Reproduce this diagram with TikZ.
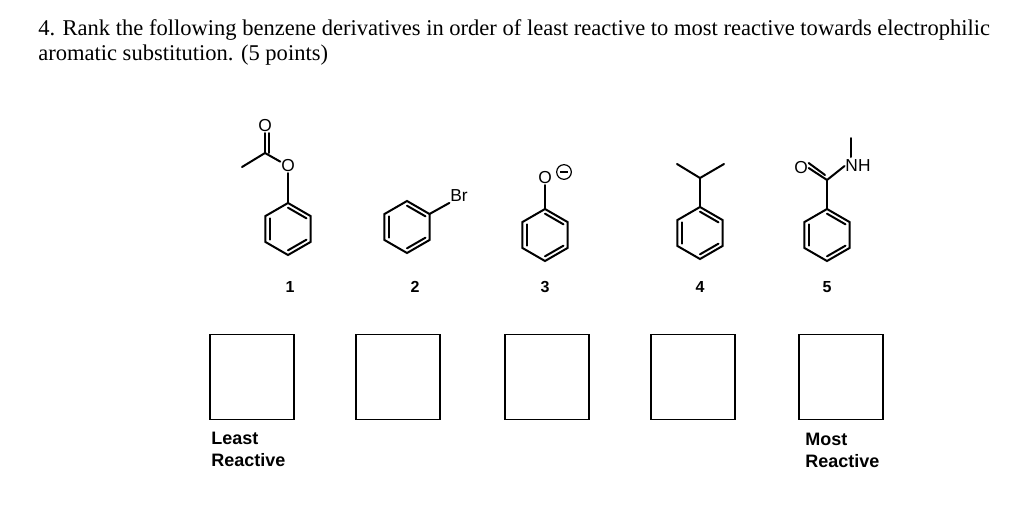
\documentclass[tikz,border=0pt]{standalone}
\usepackage{fontspec}
\setmainfont{Liberation Serif}
\setsansfont{Liberation Sans}
\newcommand{\benz}[3]{%
  \begin{scope}[shift={(#1,#2)}]
    \draw[bond] (90:#3) -- (30:#3) -- (-30:#3) -- (-90:#3) -- (-150:#3) -- (150:#3) -- cycle;
    \draw[bond] ($(150:#3)!0.18!(0,0)$) -- ($(-150:#3)!0.18!(0,0)$);
    \draw[bond] ($(90:#3)!0.18!(0,0)$) -- ($(30:#3)!0.18!(0,0)$);
    \draw[bond] ($(-30:#3)!0.18!(0,0)$) -- ($(-90:#3)!0.18!(0,0)$);
  \end{scope}}
\usetikzlibrary{calc}
\begin{document}
\begin{tikzpicture}[x=0.75pt,y=-0.75pt,
  bond/.style={line width=1.5pt,line cap=round},
  atom/.style={font=\sffamily\fontsize{13}{13}\selectfont,inner sep=0.5pt},
  num/.style={font=\sffamily\bfseries\fontsize{12}{12}\selectfont},
  lab/.style={font=\sffamily\bfseries\fontsize{13.5}{16.5}\selectfont,align=left,anchor=north west,inner sep=0},
  box/.style={draw,line width=1pt}]
\useasboundingbox (0,0) rectangle (1024,508);
\node[anchor=north west,inner sep=0,align=left,font=\fontsize{16.9}{19}\selectfont] (title) at (38,19)
 {4. Rank the following benzene derivatives in order of least reactive to most reactive towards electrophilic\\aromatic substitution. (5 points)};
% 1
\benz{288}{229}{26}
\node[atom] (o1) at (288,166) {O};
\node[atom] (o1b) at (265,126) {O};
\coordinate (c1) at (265,153);
\coordinate (m1) at (242,167);
\draw[bond] (288,203) -- (o1);
\draw[bond] (o1) -- (c1) -- (m1);
\draw[bond] (c1) -- (o1b.south);
\draw[bond] ($(c1)+(4,0)$) -- ($(o1b.south)+(4,0)$);
% 2
\benz{407}{227}{26}
\node[atom] (br) at (459,196) {Br};
\draw[bond] ({407+22.5},{227-13}) -- (br.south west);
% 3
\benz{545}{235}{26}
\node[atom] (o3) at (545,178) {O};
\node[draw,circle,inner sep=0,minimum size=11pt,line width=0.9pt] (neg) at (564,172) {};
\draw[line width=1.2pt] ($(neg)+(-4,0)$) -- ($(neg)+(4,0)$);
\draw[bond] (545,209) -- (o3);
% 4
\benz{700}{233}{26}
\coordinate (ch) at (700,178);
\coordinate (m4a) at (677,164);
\coordinate (m4b) at (724,164);
\draw[bond] (700,207) -- (ch);
\draw[bond] (m4a) -- (ch) -- (m4b);
% 5
\benz{827}{235}{26}
\coordinate (c5) at (827,180);
\node[atom] (o5) at (801,168) {O};
\node[atom] (n5) at (858,166) {NH};
\coordinate (m5) at (851,138);
\coordinate (ntop) at (851,157);
\draw[bond] (827,209) -- (c5);
\draw[bond] (c5) -- (n5.west);
\draw[bond] (c5) -- (o5.east);
\draw[bond] ($(c5)+(-2,-5)$) -- ($(o5.east)+(0,-5)$);
\draw[bond] (ntop) -- (m5);
% numbers
\node[num] (n1) at (290,287) {1};
\node[num] (n2) at (415,287) {2};
\node[num] (n3) at (545,287) {3};
\node[num] (n4) at (700,287) {4};
\node[num] (nb5) at (827,287) {5};
% boxes
\node[box,minimum width=63pt,minimum height=64pt] (b1) at (252,377) {};
\node[box,minimum width=63pt,minimum height=64pt] (b2) at (398,377) {};
\node[box,minimum width=63pt,minimum height=64pt] (b3) at (547,377) {};
\node[box,minimum width=63pt,minimum height=64pt] (b4) at (693,377) {};
\node[box,minimum width=63pt,minimum height=64pt] (b5) at (841,377) {};
\node[lab] (least) at (211,432) {Least\\Reactive};
\node[lab] (most) at (805,433) {Most\\Reactive};
\end{tikzpicture}
\end{document}
